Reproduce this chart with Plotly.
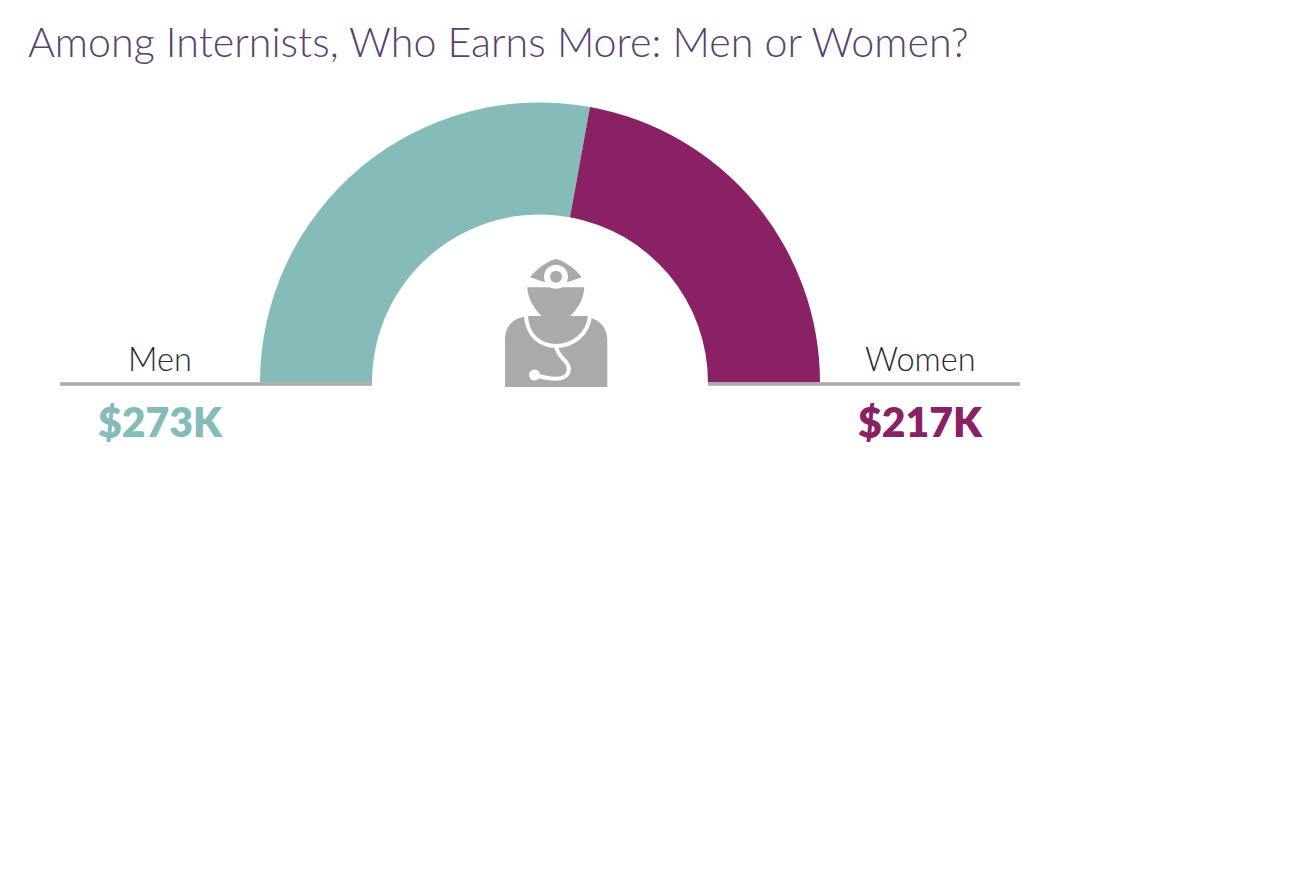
import plotly.graph_objects as go

# Earnings in $K
genders = ["Men", "Women"]
salaries = [273, 217]
colors = ["#85BBB8", "#8A2165"]

W, H = 1290, 878
GREY = "#AAAAAA"
FONT = "Lato"

# half donut: the bottom half is a transparent slice
fig = go.Figure(go.Pie(
    labels=genders + ["rest"],
    values=salaries + [sum(salaries)],
    marker=dict(colors=colors + ["rgba(0,0,0,0)"], line=dict(width=0)),
    hole=0.6,
    sort=False,
    direction="clockwise",
    rotation=-90,
    textinfo="none",
    hoverinfo="skip",
    showlegend=False,
    domain=dict(x=[260 / W, 820 / W], y=[1 - 662.5 / H, 1 - 102.5 / H]),
))

# Doctor icon, in pixels
doc_dome = "M530,277.3 C536,270 545,262 556,259 C567,262 576,270 581.7,277.3 L568,282 L544,282 Z"
doc_face = "M527.3,287.3 L584.3,287.3 C584,298 578,309 570,316 L541.7,316 C534,309 527.5,298 527.3,287.3 Z"
doc_body = "M505,387 L505,340 C505,326 513,319 523.5,317 L526,316 L590,316 L593.3,319 C602,322 607.3,330 607.3,340 L607.3,387 Z"
steth_arc = "M526,316 C527,335 540,346 556,346 C572,346 588,335 590,316"
steth_tube = "M556,346 C557,354 562,357 566,362 C570,367 570,374 564,377 C558,380 545,378 535,375"

shapes = [
    dict(type="line", x0=60, x1=372, y0=384, y1=384, line=dict(color=GREY, width=3.5)),
    dict(type="line", x0=708, x1=1020, y0=384, y1=384, line=dict(color=GREY, width=3.5)),
    dict(type="path", path=doc_body, fillcolor=GREY, line_width=0),
    dict(type="path", path=doc_dome, fillcolor=GREY, line_width=0),
    dict(type="path", path=doc_face, fillcolor=GREY, line_width=0),
    dict(type="circle", x0=544, x1=568, y0=264.7, y1=288.7, fillcolor="white", line_width=0),
    dict(type="circle", x0=550, x1=562, y0=270.7, y1=282.7, fillcolor=GREY, line_width=0),
    dict(type="path", path=steth_arc, line=dict(color="white", width=4)),
    dict(type="path", path=steth_tube, line=dict(color="white", width=4)),
    dict(type="circle", x0=529, x1=540, y0=369.5, y1=380.5, fillcolor="white", line_width=0),
]
for s in shapes:
    s["xref"] = "x"
    s["yref"] = "y"
    s["layer"] = "above"

# Labels above the line, values below it
label_x = [160, 920]
annotations = [dict(x=26, y=41, text="Among Internists, Who Earns More: Men or Women?",
                    xanchor="left", yanchor="middle", showarrow=False,
                    font=dict(family=FONT, size=41.2, weight=300, color="#5B3F70"))]
for g, v, c, x in zip(genders, salaries, colors, label_x):
    annotations.append(dict(x=x, y=358.5, text=g, showarrow=False,
                            font=dict(family=FONT, size=32.5, weight=300, color="#2A2733")))
    annotations.append(dict(x=x, y=421.5, text="${}K".format(v), showarrow=False,
                            font=dict(family=FONT, size=41, weight=800, color=c)))

fig.update_layout(
    width=W, height=H,
    margin=dict(l=0, r=0, t=0, b=0),
    paper_bgcolor="white", plot_bgcolor="rgba(0,0,0,0)",
    shapes=shapes, annotations=annotations,
    xaxis=dict(range=[0, W], visible=False, fixedrange=True),
    yaxis=dict(range=[H, 0], visible=False, fixedrange=True),
)

# page default margin would shift everything by 8px
fig.write_html("out.html", config={"displayModeBar": False},
               post_script="document.body.style.margin = '0';")
